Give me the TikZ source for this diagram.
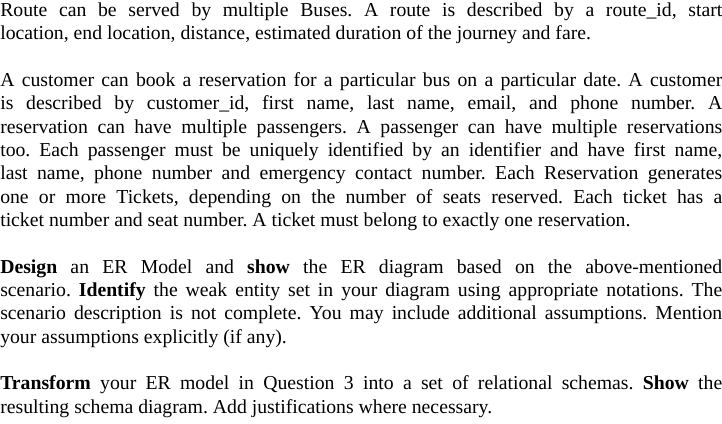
\documentclass[tikz,border=0pt]{standalone}
\usepackage{fontspec}
\setmainfont{Liberation Serif}
\begin{document}
\begin{tikzpicture}[x=1pt,y=1pt,
  para/.style={anchor=north west,inner sep=0pt,text width=541.5pt,align=justify,
    font=\fontsize{14.8pt}{17.5pt}\selectfont}]
\useasboundingbox (0,0) rectangle (541.5,-318);
\node[para] (t) at (0,-1.9) {%
\frenchspacing\parindent=0pt\parskip=17.5pt
Route can be served by multiple Buses. A route is described by a route\_id, start\linebreak
location, end location, distance, estimated duration of the journey and fare.\par
A customer can book a reservation for a particular bus on a particular date. A customer\linebreak
is described by customer\_id, first name, last name, email, and phone number. A\linebreak
reservation can have multiple passengers. A passenger can have multiple reservations\linebreak
too. Each passenger must be uniquely identified by an identifier and have first name,\linebreak
last name, phone number and emergency contact number. Each Reservation generates\linebreak
one or more Tickets, depending on the number of seats reserved. Each ticket has a\linebreak
ticket number and seat number. A ticket must belong to exactly one reservation.\par
\textbf{Design} an ER Model and \textbf{show} the ER diagram based on the above-mentioned\linebreak
scenario. \textbf{Identify} the weak entity set in your diagram using appropriate notations. The\linebreak
scenario description is not complete. You may include additional assumptions. Mention\linebreak
your assumptions explicitly (if any).\par
\textbf{Transform} your ER model in Question 3 into a set of relational schemas. \textbf{Show} the\linebreak
resulting schema diagram. Add justifications where necessary.\par};
\end{tikzpicture}
\end{document}
